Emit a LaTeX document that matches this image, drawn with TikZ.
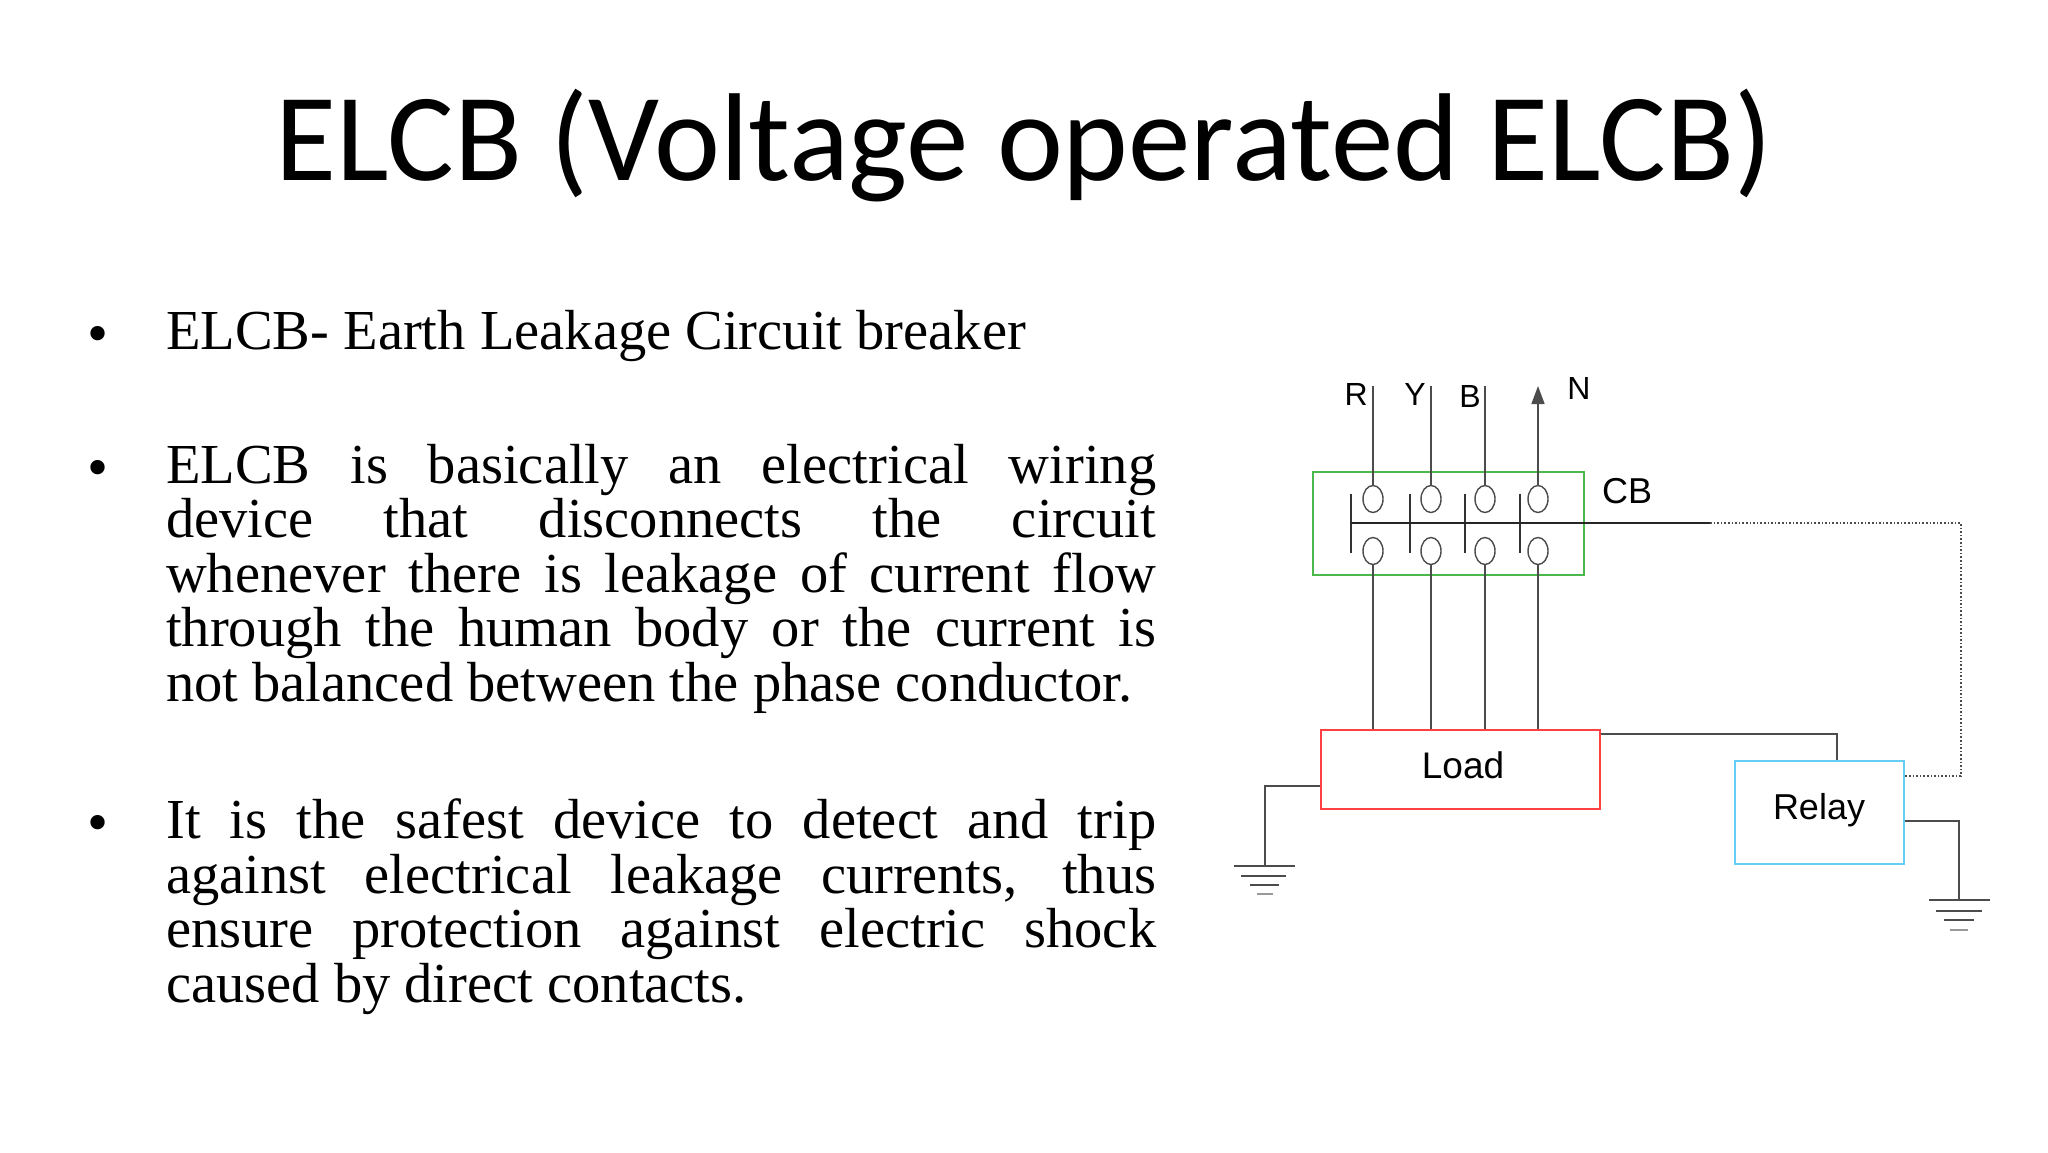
\documentclass[tikz,border=0pt]{standalone}
\usepackage{fontspec}
\setmainfont{Liberation Serif}
\newfontfamily\titlefont{Carlito}
\newfontfamily\diafont{Liberation Sans}
\usetikzlibrary{arrows.meta,shapes.geometric}
\hyphenpenalty=10000
\exhyphenpenalty=10000
\begin{document}
\begin{tikzpicture}[x=1pt,y=-1pt,
  wire/.style={draw=black!70,line width=1.6pt},
  para/.style={anchor=north west,text width=990pt,align=justify,inner sep=0pt,font=\fontsize{56.5}{54.5}\selectfont},
  bul/.style={anchor=base,inner sep=0pt,font=\fontsize{60}{54.5}\selectfont},
  lbl/.style={inner sep=0pt,font=\diafont\fontsize{32}{32}\selectfont},
  cont/.style={draw=black!70,line width=1.4pt,ellipse,minimum width=20pt,minimum height=27pt,inner sep=0pt,fill=white}]
\useasboundingbox (0,0) rectangle (2048,1152);
\node[inner sep=0pt,font=\titlefont\fontsize{125}{125}\selectfont] (title) at (1024,146) {ELCB (Voltage operated ELCB)};
% bullets
\node[bul] (b1) at (98,353) {•};
\node[bul] (b2) at (98,487) {•};
\node[bul] (b3) at (98,842) {•};
\node[para] (p1) at (166,310) {ELCB- Earth Leakage Circuit breaker};
\node[para] (p2) at (166,444) {ELCB is basically an electrical wiring\linebreak device that disconnects the circuit\linebreak whenever there is leakage of current flow\linebreak through the human body or the current is\linebreak not balanced between the phase conductor.};
\node[para] (p3) at (166,799) {It is the safest device to detect and trip\linebreak against electrical leakage currents, thus\linebreak ensure protection against electric shock\linebreak caused by direct contacts.};
% CB box
\node[draw=green!60!black!70,line width=1.4pt,minimum width=271pt,minimum height=103pt,inner sep=0pt] (cb) at (1448.5,523.5) {};
\node[lbl,anchor=base west,font=\diafont\fontsize{36}{36}\selectfont] (cbl) at (1602,503) {CB};
% wires and contacts
\foreach \n/\x in {r/1373,y/1431,b/1485,n/1538}{
  \coordinate (\n top) at (\x,386);
  \node[cont] (\n u) at (\x,499) {};
  \node[cont] (\n d) at (\x,551) {};
}
\draw[wire] (rtop) -- (ru.north);
\draw[wire] (ytop) -- (yu.north);
\draw[wire] (btop) -- (bu.north);
\draw[wire,-{Triangle[length=18pt,width=13pt]}] (nu.north) -- (ntop);
\node[lbl,anchor=base east] (rl) at (1368,405) {R};
\node[lbl,anchor=base east] (yl) at (1426,405) {Y};
\node[lbl,anchor=base east] (bl) at (1481,407) {B};
\node[lbl,anchor=base] (nl) at (1579,399) {N};
\foreach \x in {1351,1410,1465,1520}{\draw[line width=1.6pt,black!80] (\x,494) -- (\x,553);}
\coordinate (barL) at (1351,523);
\coordinate (barR) at (1710,523);
\draw[line width=1.6pt,black!85] (barL) -- (barR);
% load
\node[draw=red!75,line width=1.6pt,minimum width=279pt,minimum height=79pt,inner sep=0pt] (load) at (1460.5,769.5) {};
\node[lbl,anchor=base,font=\diafont\fontsize{37}{37}\selectfont] (loadl) at (1463,778) {Load};
\foreach \n in {r,y,b,n}{\draw[wire] (\n d.south) -- (\n d.south |- load.north);}
% relay
\node[draw=cyan!60,line width=1.6pt,minimum width=169pt,minimum height=103pt,inner sep=0pt] (relay) at (1819.5,812.5) {};
\node[lbl,anchor=base,font=\diafont\fontsize{36}{36}\selectfont] (relayl) at (1819,819) {Relay};
\coordinate (lr) at (1837,734);
\draw[wire] (load.east |- lr) -- (lr) -- (lr |- relay.north);
\coordinate (dot1) at (1961,523);
\coordinate (dot2) at (1961,776);
\draw[dotted,line width=1.6pt,black!70] (barR) -- (dot1) -- (dot2) -- (relay.east |- dot2);
% grounds
\coordinate (g1) at (1265,866);
\draw[wire] (load.west |- 0,786) -- (1265,786) -- (g1);
\draw[wire] (1234,866) -- (1295,866);
\draw[wire] (1241,876) -- (1286,876);
\draw[wire] (1250,885) -- (1279,885);
\draw[draw=black!40,line width=1.6pt] (1257,894) -- (1273,894);
\coordinate (g2) at (1959,900);
\draw[wire] (relay.east |- 0,821) -- (1959,821) -- (g2);
\draw[wire] (1929,900) -- (1990,900);
\draw[wire] (1936,911) -- (1982,911);
\draw[wire] (1944,920) -- (1974,920);
\draw[draw=black!40,line width=1.6pt] (1950,930) -- (1968,930);
\end{tikzpicture}
\end{document}
